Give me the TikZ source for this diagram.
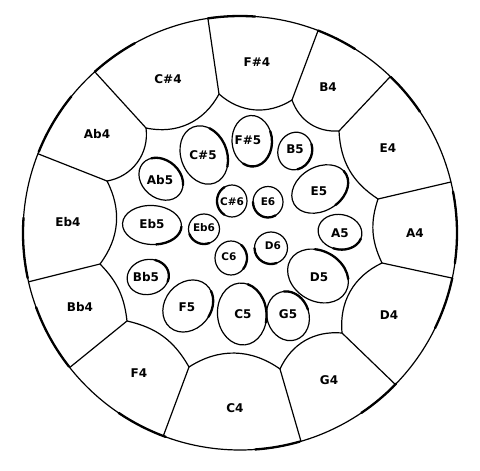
\documentclass[tikz,border=0pt]{standalone}
\usepackage{fontspec}
\setmainfont{DejaVu Sans}
\usetikzlibrary{shapes.geometric}
\newcommand\pthick[6]{\begin{scope}[shift={(#1)},rotate=#4]\draw[heavy] (#5:#2 and #3) arc[start angle=#5, end angle=#6, x radius=#2, y radius=#3];\end{scope}}
\begin{document}
\begin{tikzpicture}[x=1pt,y=-1pt,line join=round,line cap=round,
  rim/.style={line width=1.2pt},
  heavy/.style={line width=2.3pt},
  pan/.style 2 args={ellipse, draw, line width=1.2pt, inner sep=0pt, outer sep=0pt, minimum width=#1, minimum height=#2},
  big/.style={font=\bfseries\fontsize{12}{14}\selectfont, inner sep=0pt},
  small/.style={font=\bfseries\fontsize{10.5}{12}\selectfont, inner sep=0pt}]
\useasboundingbox (0,0) rectangle (480,471);
\coordinate (O) at (240,233);
\draw[rim] (O) circle (217pt);
\foreach \s/\e in {98.5/86, 68.9/58, 46/34, -8/11, -12/-26, -44/-56, -74/-86, -110/-124, -142/-160, 176/192, 158/141, 132/119}
  {\draw[heavy] (O) ++(\s:217pt) arc[start angle=\s, end angle=\e, radius=217pt];}
% inner vertices (counter-clockwise)
\coordinate (ia) at (100,264);
\coordinate (ib) at (127,321);
\coordinate (ic) at (189,367);
\coordinate (id) at (280,369);
\coordinate (ie) at (342,333);
\coordinate (if) at (382,263);
\coordinate (ig) at (378,199);
\coordinate (ih) at (339,131);
\coordinate (ii) at (292,100);
\coordinate (ij) at (219,94);
\coordinate (ik) at (146,128);
\coordinate (il) at (107,181);
% outer vertices
\coordinate (oa) at (28.6,281.8);
\coordinate (ob) at (69.7,367.5);
\coordinate (oc) at (163.3,436);
\coordinate (od) at (301,441.3);
\coordinate (oe) at (395.4,384.5);
\coordinate (of) at (452.2,278.1);
\coordinate (og) at (450.9,182);
\coordinate (oh) at (390.4,76.5);
\coordinate (oi) at (318.1,30.5);
\coordinate (oj) at (207.9,18.4);
\coordinate (ok) at (94.8,71.8);
\coordinate (ol) at (38,153.8);
\foreach \v in {a,b,c,d,e,f,g,h,i,j,k,l}{\draw[rim] (o\v) -- (i\v);}
\draw[rim] (ia) to[bend left=19] (ib) to[bend left=24] (ic) to[bend left=34] (id)
  to[bend left=35] (ie) to[bend left=35] (if) to[bend left=22] (ig)
  to[bend left=27] (ih) to[bend left=37] (ii) to[bend left=37] (ij)
  to[bend left=37] (ik) to[bend left=44] (il) to[bend left=32] (ia);
% outer labels
\node[big] (Cs4) at (168,79) {C\#4};
\node[big] (Ab4) at (97,134) {Ab4};
\node[big] (Eb4) at (68,222) {Eb4};
\node[big] (Fs4) at (257,62) {F\#4};
\node[big] (B4) at (328,87) {B4};
\node[big] (E4) at (388,148) {E4};
\node[big] (A4) at (415,233) {A4};
\node[big] (Bb4) at (80,307) {Bb4};
\node[big] (F4) at (139,373) {F4};
\node[big] (C4) at (235,408) {C4};
\node[big] (D4) at (389,315) {D4};
\node[big] (G4) at (329,380) {G4};
% inner pans
\node[pan={46pt}{60pt}, rotate=21] (pCs5) at (204,155) {};
\node[pan={40pt}{51pt}, rotate=3] (pFs5) at (252,141) {};
\node[pan={34pt}{38pt}, rotate=-20] (pB5) at (295,151) {};
\node[pan={48pt}{38pt}, rotate=-40] (pAb5) at (161,179) {};
\node[pan={60pt}{44pt}, rotate=30] (pE5) at (320,189) {};
\node[pan={30pt}{32pt}] (pCs6) at (232,201) {};
\node[pan={30pt}{31pt}] (pE6) at (268,202) {};
\node[pan={59pt}{39pt}, rotate=-3] (pEb5) at (152,225) {};
\node[pan={31pt}{30pt}] (pEb6) at (204,229) {};
\node[pan={44pt}{35pt}, rotate=-10] (pA5) at (340,232) {};
\node[pan={33pt}{32pt}] (pD6) at (271,248) {};
\node[pan={32pt}{34pt}] (pC6) at (231,258) {};
\node[pan={64pt}{50pt}, rotate=-30] (pD5) at (318,276) {};
\node[pan={42pt}{35pt}, rotate=12] (pBb5) at (148,277) {};
\node[pan={56pt}{46pt}, rotate=50] (pF5) at (188,306) {};
\node[pan={49pt}{62pt}, rotate=5] (pC5) at (242,314) {};
\node[pan={42pt}{50pt}, rotate=18] (pG5) at (288,316) {};
% heavier brush parts of the pans
\pthick{pCs5}{23pt}{30pt}{21}{-40}{50}
\pthick{pFs5}{20pt}{25.5pt}{3}{-120}{20}
\pthick{pB5}{17pt}{19pt}{-20}{-60}{40}
\pthick{pAb5}{24pt}{19pt}{-40}{30}{150}
\pthick{pE5}{30pt}{22pt}{30}{-80}{10}
\pthick{pCs6}{15pt}{16pt}{0}{120}{240}
\pthick{pE6}{15pt}{15.5pt}{0}{180}{300}
\pthick{pEb5}{29.5pt}{19.5pt}{-3}{-80}{0}
\pthick{pEb6}{15.5pt}{15pt}{0}{200}{290}
\pthick{pA5}{22pt}{17.5pt}{-10}{-100}{-10}
\pthick{pD6}{16.5pt}{16pt}{0}{180}{290}
\pthick{pC6}{16pt}{17pt}{0}{-40}{50}
\pthick{pD5}{32pt}{25pt}{-30}{30}{120}
\pthick{pBb5}{21pt}{17.5pt}{12}{-30}{60}
\pthick{pF5}{28pt}{23pt}{50}{-80}{-20}
\pthick{pC5}{24.5pt}{31pt}{5}{-20}{70}
\pthick{pG5}{21pt}{25pt}{18}{0}{80}
% inner labels
\node[big] (Cs5) at (203,155) {C\#5};
\node[big] (Fs5) at (248,140) {F\#5};
\node[big] (B5) at (295,149) {B5};
\node[big] (Ab5) at (160,180) {Ab5};
\node[big] (E5) at (319,191) {E5};
\node[small] (Cs6) at (232,202) {C\#6};
\node[small] (E6) at (268,202) {E6};
\node[big] (Eb5) at (152,224) {Eb5};
\node[small] (Eb6) at (204,228) {Eb6};
\node[big] (A5) at (340,233) {A5};
\node[small] (D6) at (273,246) {D6};
\node[small] (C6) at (229,257) {C6};
\node[big] (D5) at (319,277) {D5};
\node[big] (Bb5) at (146,277) {Bb5};
\node[big] (F5) at (187,307) {F5};
\node[big] (C5) at (243,314) {C5};
\node[big] (G5) at (288,314) {G5};
\end{tikzpicture}
\end{document}
